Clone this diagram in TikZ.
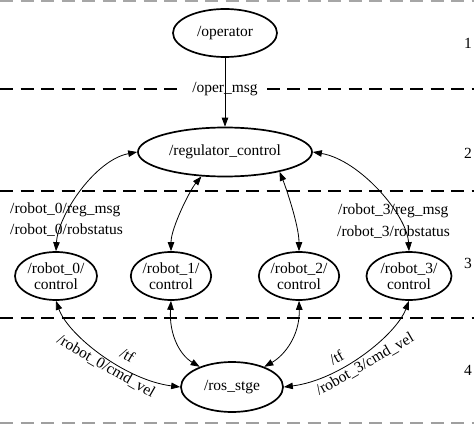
\documentclass[tikz,border=0pt]{standalone}
\usepackage{fontspec}
\setmainfont{Liberation Serif}
\usetikzlibrary{arrows.meta,shapes.geometric}
\begin{document}
\begin{tikzpicture}[x=1pt,y=-1pt,
  txt/.style={font=\fontsize{15.5}{16.5}\selectfont, inner sep=0pt},
  pair/.style={font=\fontsize{15.5}{19.5}\selectfont, inner sep=0pt, align=center},
  nd/.style={ellipse, draw, line width=1.7pt, inner sep=0pt, align=center,
    font=\fontsize{15.5}{16.5}\selectfont},
  layerline/.style={line width=2pt, dash pattern=on 13pt off 7.5pt},
  conn/.style={line width=0.8pt, {Triangle[length=9pt,width=6.5pt]}-{Triangle[length=9pt,width=6.5pt]}},
  oneway/.style={line width=0.8pt, -{Triangle[length=9pt,width=6.5pt]}},
]
\useasboundingbox (0,0) rectangle (474,425);
% layer separators
\draw[layerline, gray!70] (0,1) -- (474,1);
\draw[layerline] (0,89) -- (474,89);
\draw[layerline] (0,191) -- (474,191);
\draw[layerline] (0,318) -- (474,318);
\draw[layerline, gray!75] (0,423) -- (474,423);
% layer numbers
\node[txt, anchor=west] (l1) at (464,43) {1};
\node[txt, anchor=west] (l2) at (464,153) {2};
\node[txt, anchor=west] (l3) at (464,263) {3};
\node[txt, anchor=west] (l4) at (464,370) {4};
% nodes
\node[nd, minimum width=104pt, minimum height=48pt] (op) at (225,33) {/operator};
\node[nd, minimum width=174pt, minimum height=49pt] (reg) at (225,152) {/regulator\_control};
\node[nd, minimum width=82pt, minimum height=48pt] (r0) at (56,276) {/robot\_0/\\control};
\node[nd, minimum width=80pt, minimum height=48pt] (r1) at (171,276) {/robot\_1/\\control};
\node[nd, minimum width=80pt, minimum height=48pt] (r2) at (299,276) {/robot\_2/\\control};
\node[nd, minimum width=85pt, minimum height=48pt] (r3) at (409,276) {/robot\_3/\\control};
\node[nd, minimum width=102pt, minimum height=50pt] (ros) at (232,387) {/ros\_stge};
% topic label on the separator
\node[txt, fill=white, inner xsep=9pt, inner ysep=2pt] (om) at (225,89) {/oper\_msg};
% connectors
\draw[oneway] (op.south) -- (reg.north);
\draw[conn] (r0.north) .. controls (58,215) and (95,160) .. (reg.west);
\draw[conn] (r3.north) .. controls (407,215) and (360,160) .. (reg.east);
\draw[conn] (r1.north) .. controls (171,228) and (190,190) .. (reg.-134);
\draw[conn] (r2.north) .. controls (299,225) and (285,185) .. (reg.-20);
\draw[conn] (r0.south) .. controls (68,335) and (125,380) .. (ros.west);
\draw[conn] (r3.south) .. controls (396,335) and (340,380) .. (ros.east);
\draw[conn] (r1.south) .. controls (169,335) and (180,355) .. (ros.148);
\draw[conn] (r2.south) .. controls (300,335) and (285,355) .. (ros.32);
% topic labels
\node[txt, anchor=west] (t0a) at (10,210) {/robot\_0/reg\_msg};
\node[txt, anchor=west] (t0b) at (10,230) {/robot\_0/robstatus};
\node[txt, anchor=west] (t3a) at (338,211) {/robot\_3/reg\_msg};
\node[txt, anchor=west] (t3b) at (337,232) {/robot\_3/robstatus};
\node[pair, rotate=-30] (lblL) at (111,358) {\hspace*{26pt}/tf\\/robot\_0/cmd\_vel};
\node[pair, rotate=30] (lblR) at (360,356) {/tf\hspace*{42pt}\\/robot\_3/cmd\_vel};
\end{tikzpicture}
\end{document}
